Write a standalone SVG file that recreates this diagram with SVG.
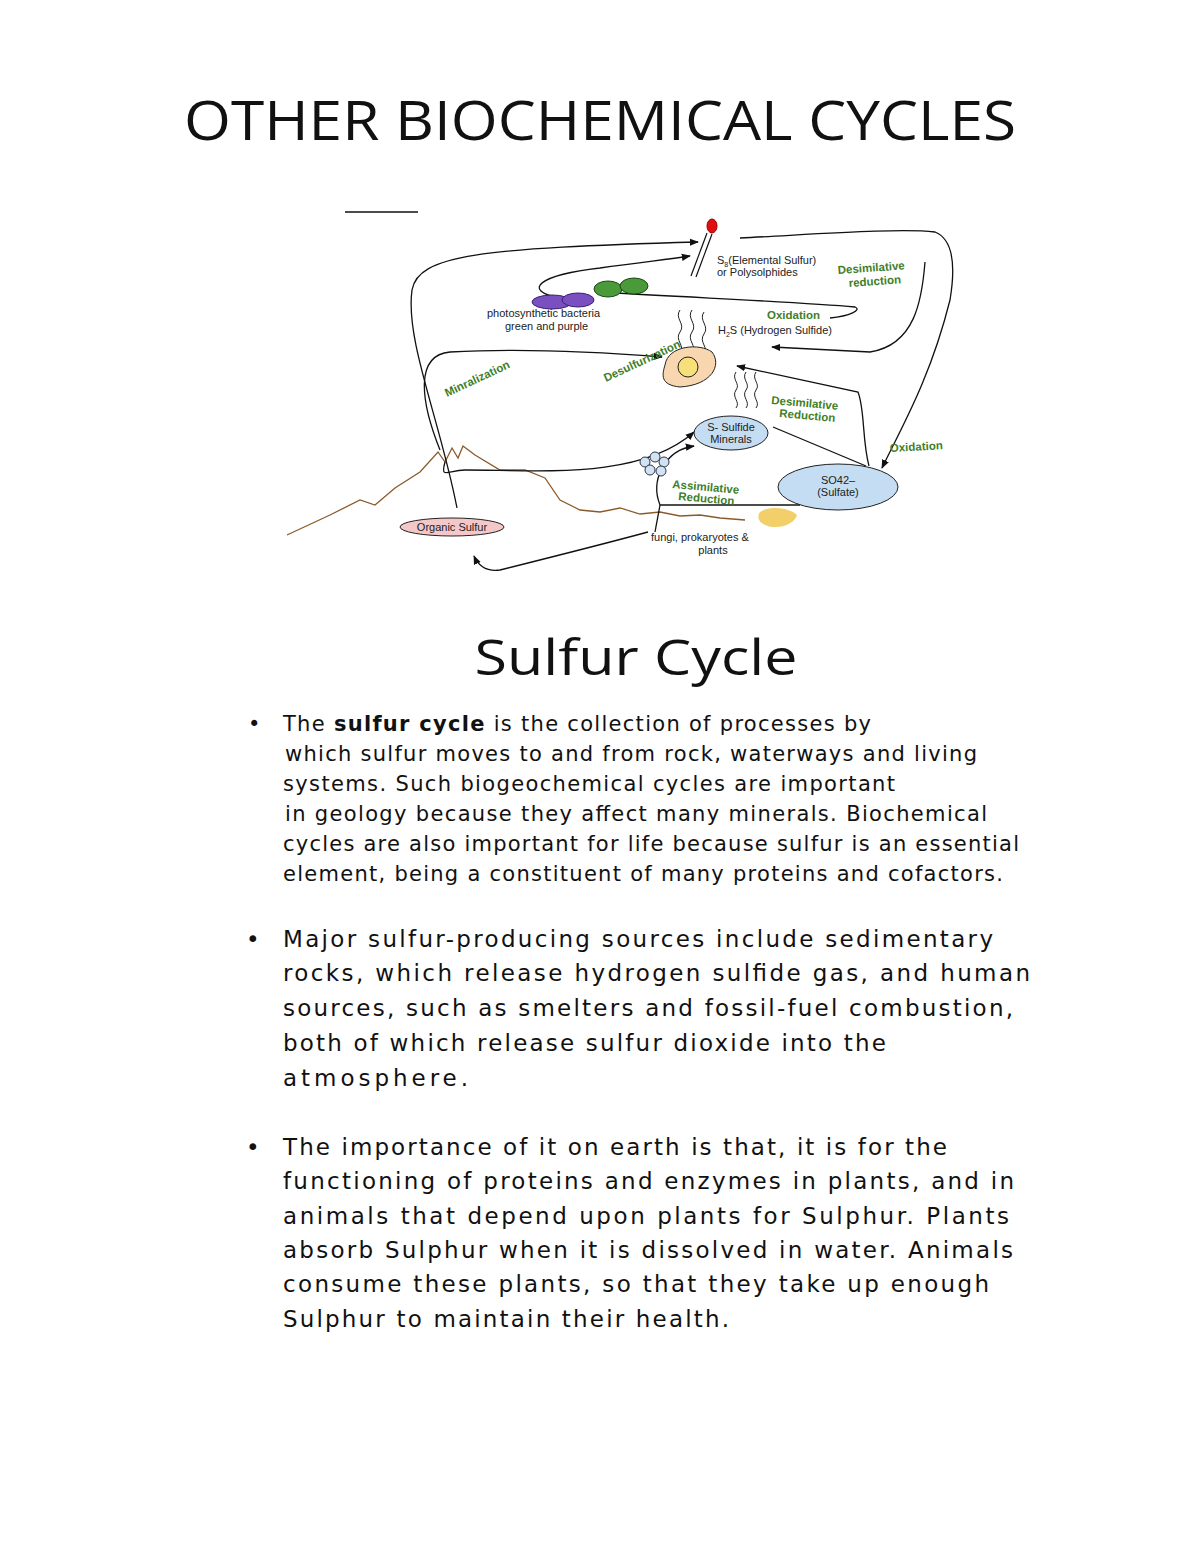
<svg xmlns="http://www.w3.org/2000/svg" width="1200" height="1553" viewBox="0 0 1200 1553">
<style>
.lbl{font-family:"Liberation Sans",Arial,sans-serif;font-size:11px;fill:#222}
.g{font-family:"Liberation Sans",Arial,sans-serif;font-size:11.5px;font-weight:bold;fill:#3f7f2a}
.body{font-family:"DejaVu Sans",Verdana,sans-serif;fill:#111}
.ln{fill:none;stroke:#111;stroke-width:1.3}
</style>
<defs><marker id="ah" viewBox="0 0 10 10" refX="9" refY="5" markerWidth="7" markerHeight="7" orient="auto"><path d="M0,1 L10,5 L0,9 z" fill="#111"/></marker></defs>
<rect width="1200" height="1553" fill="#fff"/>
<text x="600" y="140" text-anchor="middle" font-family="Open Sans,Liberation Sans,sans-serif" font-size="54" textLength="832" lengthAdjust="spacingAndGlyphs" fill="#111">OTHER BIOCHEMICAL CYCLES</text>
<line x1="345" y1="212" x2="418" y2="212" stroke="#111" stroke-width="1.5"/>
<g id="terrain">
<path d="M287,535 L330,515 L360,500 L375,505 L395,488 L420,472 L438,452 L445,462 L452,448 L458,458 L463,446 L475,455 L500,470 L525,470 L545,478 L560,500 L580,510 L600,512 L620,508 L640,514 L660,512 L680,516 L700,515 L720,518 L745,520" fill="none" stroke="#8b5a2b" stroke-width="1.3"/>
<path d="M760,512 C770,505 790,508 797,515 C795,522 785,528 772,527 C762,525 755,520 760,512 z" fill="#f3cf6a"/>
</g>
<g id="connectors">
<path class="ln" d="M457,508 C440,420 405,340 412,290 C418,255 480,248 698,242" marker-end="url(#ah)"/>
<path class="ln" d="M560,298 C520,290 540,275 600,268 C640,262 665,260 690,256" marker-end="url(#ah)"/>
<path class="ln" d="M600,292 C700,298 800,302 855,307 C862,310 850,316 830,318"/>
<path class="ln" d="M740,238 C820,234 900,228 935,232 C955,240 955,270 950,300 C930,380 900,430 882,468" marker-end="url(#ah)"/>
<path class="ln" d="M925,262 C922,300 915,345 870,352 L772,347" marker-end="url(#ah)"/>
<path class="ln" d="M869,466 C862,440 865,410 858,392 L737,366" marker-end="url(#ah)"/>
<path class="ln" d="M773,427 L866,466"/>
<path class="ln" d="M440,450 C420,400 415,355 450,352 C520,348 600,352 662,357" marker-end="url(#ah)"/>
<path class="ln" d="M445,462 C440,480 448,470 465,470 C540,470 640,480 694,432" marker-end="url(#ah)"/>
<path class="ln" d="M660,505 C650,480 665,450 694,446" marker-end="url(#ah)"/>
<path class="ln" d="M660,505 L800,505"/>
<path class="ln" d="M648,532 C600,545 540,560 500,570 C485,572 478,565 474,556" marker-end="url(#ah)"/>
<path class="ln" d="M655,532 L660,505"/>
</g>
<g id="match"><line x1="707" y1="233" x2="691" y2="276" stroke="#111" stroke-width="1.2"/><line x1="712" y1="234" x2="696" y2="277" stroke="#111" stroke-width="1.2"/><ellipse cx="712" cy="226" rx="5" ry="7" fill="#e01010" stroke="#900"/></g>
<g id="s8"><text class="lbl" x="717" y="264">S<tspan font-size="7" dy="3">8</tspan><tspan dy="-3">(Elemental Sulfur)</tspan></text><text class="lbl" x="717" y="276">or Polysolphides</text></g>
<text class="g" x="838" y="274" transform="rotate(-4 838 274)">Desimilative</text>
<text class="g" x="849" y="287" transform="rotate(-4 849 287)">reduction</text>
<g id="bacteria">
<ellipse cx="552" cy="302" rx="20" ry="7" fill="#7a4fc0" stroke="#3a2070"/><ellipse cx="578" cy="300" rx="16" ry="7" fill="#7a4fc0" stroke="#3a2070"/>
<ellipse cx="608" cy="289" rx="14" ry="8" fill="#4a9a3a" stroke="#1f4a1a"/><ellipse cx="634" cy="286" rx="14" ry="8" fill="#4a9a3a" stroke="#1f4a1a"/>
<text class="lbl" x="487" y="317">photosynthetic bacteria</text><text class="lbl" x="505" y="330">green and purple</text>
</g>
<g id="wavy" fill="none" stroke="#222" stroke-width="1">
<path d="M680,310 c-6,8 6,14 0,22 c-6,8 6,14 0,22"/><path d="M692,310 c-6,8 6,14 0,22 c-6,8 6,14 0,22"/><path d="M704,312 c-6,8 6,14 0,22 c-6,8 6,14 0,22"/>
<path d="M736,372 c-5,7 5,12 0,18 c-5,7 5,12 0,18"/><path d="M746,372 c-5,7 5,12 0,18 c-5,7 5,12 0,18"/><path d="M756,372 c-5,7 5,12 0,18 c-5,7 5,12 0,18"/>
</g>
<text class="g" x="767" y="319">Oxidation</text>
<text class="lbl" x="718" y="334">H<tspan font-size="7" dy="3">2</tspan><tspan dy="-3">S (Hydrogen Sulfide)</tspan></text>
<g id="cell"><path d="M665,365 C668,345 700,343 712,352 C722,365 712,385 680,387 C660,385 662,375 665,365 z" fill="#f7d6b0" stroke="#222"/><circle cx="688" cy="367" r="10" fill="#f7e07a" stroke="#222"/></g>
<text class="g" x="606" y="382" transform="rotate(-25 606 382)">Desulfurization</text>
<text class="g" x="447" y="397" transform="rotate(-25 447 397)">Minralization</text>
<text class="g" x="771" y="404" transform="rotate(5 771 404)">Desimilative</text>
<text class="g" x="779" y="417" transform="rotate(5 779 417)">Reduction</text>
<g id="sulfide"><ellipse cx="731" cy="433" rx="37" ry="17" fill="#c5ddf2" stroke="#222"/><text class="lbl" x="731" y="431" text-anchor="middle" font-size="10">S-  Sulfide</text><text class="lbl" x="731" y="443" text-anchor="middle" font-size="10">Minerals</text></g>
<g id="flower" fill="#cfe3f5" stroke="#334"><circle cx="645" cy="462" r="5"/><circle cx="655" cy="457" r="5"/><circle cx="664" cy="462" r="5"/><circle cx="650" cy="470" r="5"/><circle cx="661" cy="471" r="5"/></g>
<text class="g" x="890" y="452" transform="rotate(-3 890 452)">Oxidation</text>
<text class="g" x="672" y="488" transform="rotate(5 672 488)">Assimilative</text>
<text class="g" x="678" y="500" transform="rotate(5 678 500)">Reduction</text>
<g id="sulfate"><ellipse cx="838" cy="487" rx="60" ry="23" fill="#c5ddf2" stroke="#222"/><text class="lbl" x="838" y="484" text-anchor="middle">SO42–</text><text class="lbl" x="838" y="496" text-anchor="middle">(Sulfate)</text></g>
<g id="organic"><ellipse cx="452" cy="527" rx="52" ry="9" fill="#f4c8c8" stroke="#222"/><text class="lbl" x="452" y="531" text-anchor="middle" font-size="10">Organic Sulfur</text></g>
<g id="fungi"><text class="lbl" x="651" y="541">fungi, prokaryotes &amp;</text><text class="lbl" x="713" y="554" text-anchor="middle">plants</text></g>
<text x="636" y="675" text-anchor="middle" font-family="Open Sans,Liberation Sans,sans-serif" font-size="50" textLength="323" lengthAdjust="spacingAndGlyphs" fill="#111">Sulfur Cycle</text>
<g id="text" class="body">
<g font-size="21">
<text x="248" y="731">•</text>
<text x="283" y="731" textLength="588" lengthAdjust="spacing">The <tspan font-weight="bold">sulfur cycle</tspan> is the collection of processes by</text>
<text x="285" y="761" textLength="692" lengthAdjust="spacing">which sulfur moves to and from rock, waterways and living</text>
<text x="283" y="791" textLength="612" lengthAdjust="spacing">systems. Such biogeochemical cycles are important</text>
<text x="285" y="821" textLength="702" lengthAdjust="spacing">in geology because they affect many minerals. Biochemical</text>
<text x="283" y="851" textLength="736" lengthAdjust="spacing">cycles are also important for life because sulfur is an essential</text>
<text x="283" y="881" textLength="720" lengthAdjust="spacing">element, being a constituent of many proteins and cofactors.</text>
</g>
<g font-size="23">
<text x="246" y="947">•</text>
<text x="283" y="947" textLength="710" lengthAdjust="spacing">Major sulfur-producing sources include sedimentary</text>
<text x="283" y="981" textLength="747" lengthAdjust="spacing">rocks, which release hydrogen sulfide gas, and human</text>
<text x="283" y="1016" textLength="730" lengthAdjust="spacing">sources, such as smelters and fossil-fuel combustion,</text>
<text x="283" y="1051" textLength="603" lengthAdjust="spacing">both of which release sulfur dioxide into the</text>
<text x="283" y="1086" textLength="185" lengthAdjust="spacing">atmosphere.</text>
<text x="246" y="1155">•</text>
<text x="283" y="1155" textLength="664" lengthAdjust="spacing">The importance of it on earth is that, it is for the</text>
<text x="283" y="1189" textLength="731" lengthAdjust="spacing">functioning of proteins and enzymes in plants, and in</text>
<text x="283" y="1224" textLength="726" lengthAdjust="spacing">animals that depend upon plants for Sulphur. Plants</text>
<text x="283" y="1258" textLength="730" lengthAdjust="spacing">absorb Sulphur when it is dissolved in water. Animals</text>
<text x="283" y="1292" textLength="706" lengthAdjust="spacing">consume these plants, so that they take up enough</text>
<text x="283" y="1327" textLength="446" lengthAdjust="spacing">Sulphur to maintain their health.</text>
</g>
</g>
</svg>
